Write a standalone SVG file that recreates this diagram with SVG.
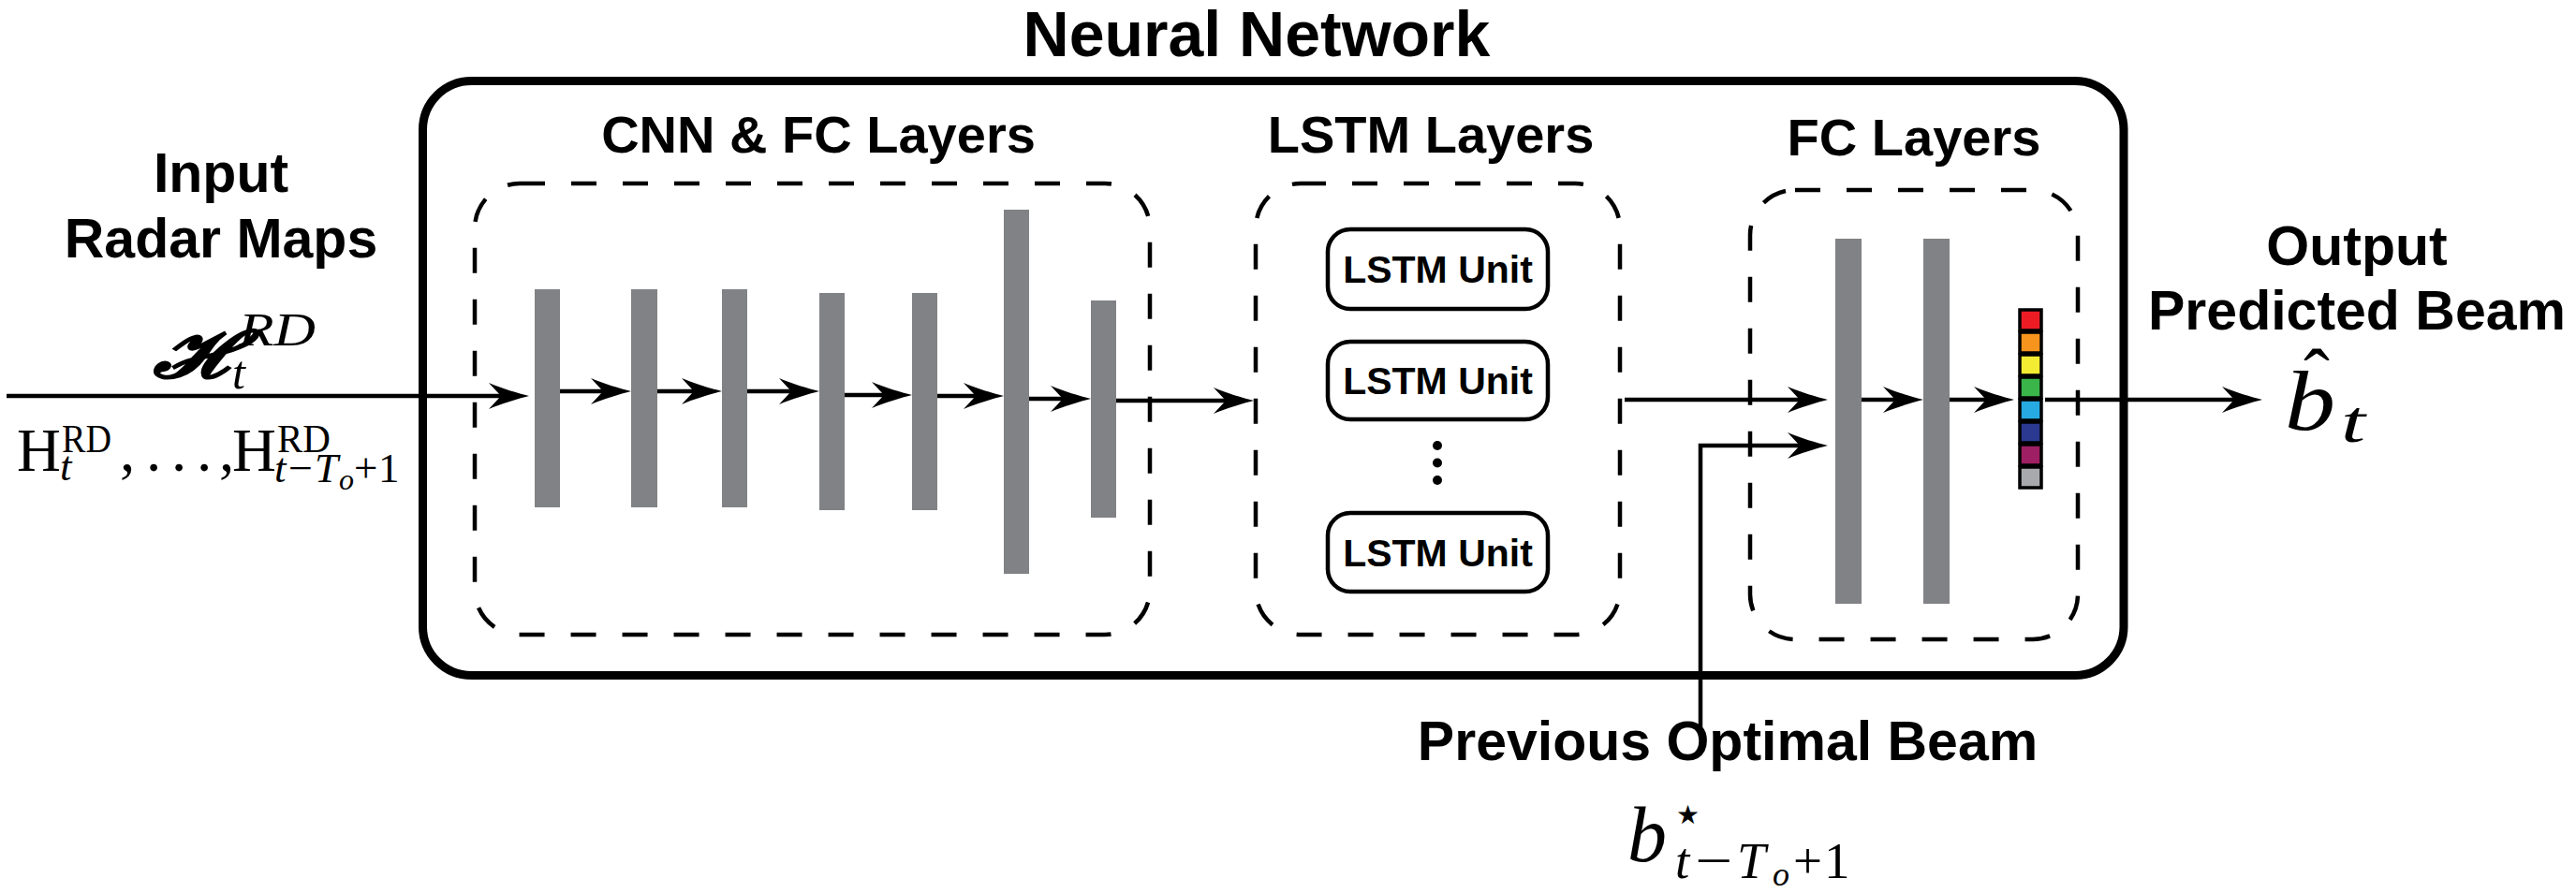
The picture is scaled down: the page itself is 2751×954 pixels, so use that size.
<svg xmlns="http://www.w3.org/2000/svg" width="2751" height="954" viewBox="0 0 2751 954">
<style>
.hdr{font-family:"Liberation Sans",Arial,sans-serif;font-weight:bold;fill:#000}
.it{font-family:"Liberation Serif","Times New Roman",serif;font-style:italic;fill:#000}
.rm{font-family:"Liberation Serif","Times New Roman",serif;font-style:normal;fill:#000}
.bar{fill:#818285}
.dash{fill:none;stroke:#000;stroke-width:4.5;stroke-dasharray:27 28}
.unit{fill:#fff;stroke:#000;stroke-width:4.5}
.conn{fill:none;stroke:#000;stroke-width:4.5;marker-end:url(#ah)}
.cell{stroke:#000;stroke-width:3.5}
</style>
<defs>
<marker id="ah" markerUnits="userSpaceOnUse" viewBox="-46 -16 48 32" refX="-10" refY="0" markerWidth="48" markerHeight="32" orient="auto">
<path d="M0,0 C-12,-3 -29,-8 -43,-14 L-30,0 L-43,14 C-29,8 -12,3 0,0 Z" fill="#000"/>
</marker>
</defs>
<rect width="2751" height="954" fill="#fff"/>

<g id="neural-network">
<rect x="451.5" y="86.5" width="1816.5" height="635" rx="52" fill="none" stroke="#000" stroke-width="9"/>
<text class="hdr" x="1342" y="60" font-size="68" text-anchor="middle">Neural Network</text>
</g>

<g id="cnn-fc">
<rect class="dash" x="507" y="196" width="721" height="482" rx="48"/>
<text class="hdr" x="874" y="163" font-size="56" text-anchor="middle">CNN &amp; FC Layers</text>
<rect class="bar" x="571" y="309" width="27" height="233"/>
<rect class="bar" x="674" y="309" width="28" height="233"/>
<rect class="bar" x="771" y="309" width="27" height="233"/>
<rect class="bar" x="875" y="313" width="27" height="232"/>
<rect class="bar" x="974" y="313" width="27" height="232"/>
<rect class="bar" x="1072" y="224" width="27" height="389"/>
<rect class="bar" x="1165" y="321" width="27" height="232"/>
</g>

<g id="lstm">
<rect class="dash" x="1341" y="196" width="389" height="482" rx="48"/>
<text class="hdr" x="1528" y="163" font-size="56" text-anchor="middle">LSTM Layers</text>
<rect class="unit" x="1418" y="245" width="235" height="85" rx="24"/>
<text class="hdr" x="1535.5" y="302" font-size="41" text-anchor="middle">LSTM Unit</text>
<rect class="unit" x="1418" y="365" width="235" height="83" rx="24"/>
<text class="hdr" x="1535.5" y="421" font-size="41" text-anchor="middle">LSTM Unit</text>
<circle cx="1535" cy="476" r="5"/>
<circle cx="1535" cy="494.5" r="5"/>
<circle cx="1535" cy="513" r="5"/>
<rect class="unit" x="1418" y="548" width="235" height="84" rx="24"/>
<text class="hdr" x="1535.5" y="605" font-size="41" text-anchor="middle">LSTM Unit</text>
</g>

<g id="fc">
<rect class="dash" x="1869" y="203" width="350" height="480" rx="48"/>
<text class="hdr" x="2044" y="166" font-size="56" text-anchor="middle">FC Layers</text>
<rect class="bar" x="1960" y="255" width="28" height="390"/>
<rect class="bar" x="2054" y="255" width="28" height="390"/>
</g>

<g id="output-vector">
<rect class="cell" x="2157" y="331" width="23" height="22" fill="#ED1C24"/>
<rect class="cell" x="2157" y="355" width="23" height="22" fill="#F7941D"/>
<rect class="cell" x="2157" y="379" width="23" height="22" fill="#F4EB33"/>
<rect class="cell" x="2157" y="403" width="23" height="22" fill="#39B54A"/>
<rect class="cell" x="2157" y="427" width="23" height="22" fill="#27AAE1"/>
<rect class="cell" x="2157" y="451" width="23" height="22" fill="#2B3990"/>
<rect class="cell" x="2157" y="475" width="23" height="22" fill="#9E1F63"/>
<rect class="cell" x="2157" y="499" width="23" height="22" fill="#A7A9AC"/>
</g>

<g id="connectors">
<path class="conn" d="M7,423 H555"/>
<path class="conn" d="M598,418 H664"/>
<path class="conn" d="M702,418 H761"/>
<path class="conn" d="M798,418 H865"/>
<path class="conn" d="M902,422 H964"/>
<path class="conn" d="M1001,423 H1062"/>
<path class="conn" d="M1099,426 H1155"/>
<path class="conn" d="M1192,428 H1329"/>
<path class="conn" d="M1735,427 H1942"/>
<path class="conn" d="M1816,778 V476 H1942"/>
<path class="conn" d="M1988,427 H2044"/>
<path class="conn" d="M2082,427 H2141"/>
<path class="conn" d="M2184,427 H2406"/>
</g>

<g id="input-label">
<text class="hdr" x="236" y="205" font-size="59" text-anchor="middle">Input</text>
<text class="hdr" x="236" y="275" font-size="59" text-anchor="middle">Radar Maps</text>
<text class="it" x="163" y="403" font-size="72" font-weight="bold" font-family="DejaVu Serif, Liberation Serif, serif" textLength="80" lengthAdjust="spacingAndGlyphs">𝓗</text>
<text class="it" x="255" y="369" font-size="50" textLength="82" lengthAdjust="spacingAndGlyphs">RD</text>
<text class="it" x="248" y="415" font-size="50">t</text>
<text class="rm" x="18" y="503" font-size="65">H</text>
<text class="rm" x="66" y="483" font-size="42" textLength="53" lengthAdjust="spacingAndGlyphs">RD</text>
<text class="it" x="64" y="513" font-size="45">t</text>
<text class="rm" x="128 156 183 210 234" y="503" font-size="65">,...,</text>
<text class="rm" x="248" y="503" font-size="65">H</text>
<text class="rm" x="296" y="483" font-size="42" textLength="57" lengthAdjust="spacingAndGlyphs">RD</text>
<text class="it" x="293" y="515" font-size="45">t</text>
<text class="rm" x="308" y="515" font-size="45" textLength="26" lengthAdjust="spacingAndGlyphs">−</text>
<text class="it" x="336" y="515" font-size="45">T</text>
<text class="it" x="362" y="523" font-size="32">o</text>
<text class="rm" x="378" y="515" font-size="45">+</text>
<text class="rm" x="404" y="515" font-size="45">1</text>
</g>

<g id="output-label">
<text class="hdr" x="2517" y="283" font-size="59" text-anchor="middle">Output</text>
<text class="hdr" x="2517" y="352" font-size="59" text-anchor="middle">Predicted Beam</text>
<text class="it" x="2440" y="459" font-size="90" textLength="54" lengthAdjust="spacingAndGlyphs">b</text>
<text class="rm" x="2474" y="431" font-size="84" text-anchor="middle">ˆ</text>
<text class="it" x="2500" y="472" font-size="64" textLength="26" lengthAdjust="spacingAndGlyphs">t</text>
</g>

<g id="previous-beam-label">
<text class="hdr" x="1845" y="812" font-size="59" text-anchor="middle">Previous Optimal Beam</text>
<text class="it" x="1738" y="920" font-size="84">b</text>
<text x="1790" y="880" font-size="28" font-family="DejaVu Sans, sans-serif">★</text>
<text class="it" x="1789" y="938" font-size="55">t</text>
<text class="rm" x="1810" y="938" font-size="55" textLength="40" lengthAdjust="spacingAndGlyphs">−</text>
<text class="it" x="1855" y="938" font-size="55">T</text>
<text class="it" x="1893" y="946" font-size="36">o</text>
<text class="rm" x="1915" y="938" font-size="55">+</text>
<text class="rm" x="1948" y="938" font-size="55">1</text>
</g>
</svg>
